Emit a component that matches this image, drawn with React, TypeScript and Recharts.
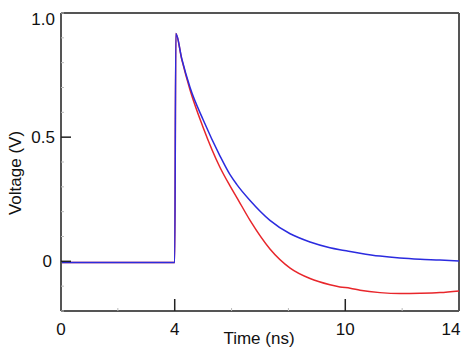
import { Label, Line, LineChart, ReferenceLine, XAxis, YAxis } from "recharts";

// time samples (ns)
const timeNs = [
  0, 4.0, 4.04, 4.25, 4.54, 5.0, 5.59, 5.94, 6.18, 6.65, 7.35, 8.06, 8.76,
  9.46, 9.81, 10.17, 10.52, 11.22, 11.92, 12.63, 13.33, 14,
];
// blue trace (V)
const blueVolts = [
  -0.005, -0.005, 0.917, 0.815, 0.7, 0.57, 0.425, 0.35, 0.31, 0.245, 0.165,
  0.111, 0.078, 0.055, 0.047, 0.04, 0.033, 0.021, 0.013, 0.008, 0.005, 0.001,
];
// red trace (V)
const redVolts = [
  -0.005, -0.005, 0.917, 0.812, 0.69, 0.539, 0.379, 0.305, 0.258, 0.165, 0.05,
  -0.027, -0.069, -0.094, -0.103, -0.108, -0.116, -0.126, -0.13, -0.129,
  -0.126, -0.119,
];

const timeTicks = [0, 2, 4, 6, 8, 10, 12, 14];
const timeLabels = [0, 4, 10, 14];
const voltTicks = [-0.2, -0.1, 0, 0.1, 0.2, 0.3, 0.4, 0.5, 0.6, 0.7, 0.8, 0.9, 1.0];
const voltLabels: Record<string, string> = { "0": "0", "0.5": "0.5", "1": "1.0" };

const data = timeNs.map((t, i) => ({ t, blue: blueVolts[i], red: redVolts[i] }));

const FONT = '"Liberation Sans", Arial, sans-serif';
const AXIS = "#555";

function TimeTick(props: any) {
  const { x, y, payload } = props;
  const v = payload.value;
  const major = timeLabels.includes(v);
  const dx = v === 14 ? -8 : 0;
  return (
    <g>
      {major ? (
        v !== 0 && v !== 14 && <line x1={x} x2={x} y1={y} y2={y - 12} stroke="#222" strokeWidth={1.5} />
      ) : (
        <line x1={x} x2={x} y1={y} y2={y - 3} stroke="#bbb" strokeWidth={1} />
      )}
      {major && (
        <text x={x + dx} y={y + 24} textAnchor="middle" fontSize={17} fontFamily={FONT} fill="#111">
          {v}
        </text>
      )}
    </g>
  );
}

function VoltTick(props: any) {
  const { x, y, payload } = props;
  const v = Math.round(payload.value * 10) / 10;
  const label = voltLabels[String(v)];
  const major = v === 0 || v === 0.5;
  return (
    <g>
      {major ? (
        <line x1={x} x2={x + 10} y1={y} y2={y} stroke="#222" strokeWidth={1.5} />
      ) : (
        <line x1={x} x2={x + 3} y1={y} y2={y} stroke="#bbb" strokeWidth={1} />
      )}
      {label && (
        <text
          x={v === 0 ? x - 9 : x - 6}
          y={v === 1 ? y + 6 : y}
          textAnchor="end"
          dominantBaseline="central"
          fontSize={17}
          fontFamily={FONT}
          fill="#111"
        >
          {label}
        </text>
      )}
    </g>
  );
}

export default function App() {
  return (
    <div style={{ position: "absolute", left: 0, top: 0, width: 474, height: 360, background: "#fff" }}>
      <LineChart width={474} height={360} data={data} margin={{ top: 13, right: 15, left: 0, bottom: 0 }}>
        <XAxis
          dataKey="t"
          type="number"
          domain={[0, 14]}
          ticks={timeTicks}
          interval={0}
          tickLine={false}
          tickSize={0}
          tickMargin={0}
          height={49}
          axisLine={{ stroke: AXIS, strokeWidth: 2 }}
          tick={TimeTick}
          label={
            <Label
              content={() => (
                <text x={259} y={344} textAnchor="middle" fontSize={17} fontFamily={FONT} fill="#111">
                  Time (ns)
                </text>
              )}
            />
          }
        />
        <YAxis
          type="number"
          domain={[-0.2, 1]}
          allowDataOverflow
          ticks={voltTicks}
          interval={0}
          tickLine={false}
          tickSize={0}
          tickMargin={0}
          width={61}
          axisLine={{ stroke: AXIS, strokeWidth: 2 }}
          tick={VoltTick}
          label={
            <Label
              content={() => (
                <text
                  x={21}
                  y={173}
                  transform="rotate(-90 21 173)"
                  textAnchor="middle"
                  fontSize={17}
                  fontFamily={FONT}
                  fill="#111"
                >
                  Voltage (V)
                </text>
              )}
            />
          }
        />
        <ReferenceLine y={1} stroke={AXIS} strokeWidth={2} />
        <ReferenceLine x={14} stroke={AXIS} strokeWidth={2} />
        <Line
          dataKey="red"
          type="monotone"
          stroke="#e8262b"
          strokeWidth={1.5}
          dot={false}
          isAnimationActive={false}
        />
        <Line
          dataKey="blue"
          type="monotone"
          stroke="#2b2bdf"
          strokeWidth={1.5}
          dot={false}
          isAnimationActive={false}
        />
      </LineChart>
    </div>
  );
}
